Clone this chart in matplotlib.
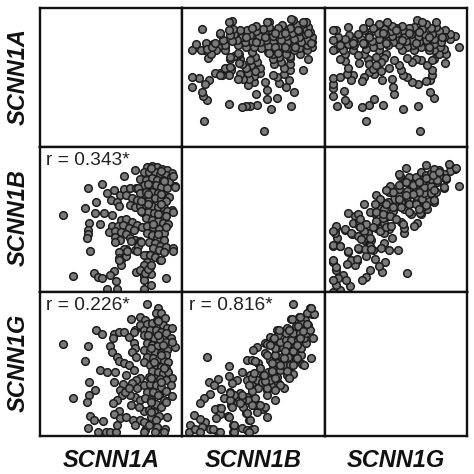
import matplotlib
matplotlib.use('Agg')
import matplotlib.pyplot as plt

plt.rcParams['font.family'] = ['Liberation Sans', 'DejaVu Sans']

genes = ['SCNN1A', 'SCNN1B', 'SCNN1G']
r_ab = 'r = 0.343*'
r_ag = 'r = 0.226*'
r_bg = 'r = 0.816*'

# values, arbitrary units (no axis ticks in the chart)
a_ab = [68,98,142,185,252,283,168,135,163,191,215,146,180,144,142,139,149,160,172,186,221,210,227,230,199,310,375,287,312,332,330,310,
        200,220,212,238,230,252,270,288,256,235,
        320,335,350,365,380,395,310,325,342,358,375,390,300,318,335,350,368,385,402,310,327,345,362,378,292,300,318,335,352,370,385,275,290,308,325,342,360,377,270,285,300,318,335,352,370,395,380,305,323,340,358,375,317,335,352,368,382,
        242,258,275,290,305,215,232,248,265,280,320,338,355,370,205,225,242,258,225,240,223,270,285,300,320,335,350,370,325,342,358,375,397,285,292,258,250,235,320,338,355,370,310,327,342,358,237,242,320,312,328,300,315,
        321,331,361,396,243,236,256,261,291,301,271,
        396,403,396,331,361,371,361,361,351,336,351,376,321,321,321,301,301]
b_ab = [231,47,314,324,350,367,271,252,239,239,233,209,206,187,174,164,123,57,44,41,62,50,32,9,9,9,41,59,47,54,21,37,
        297,307,277,292,272,310,312,312,292,259,
        377,379,377,372,367,359,362,362,362,357,352,347,342,339,345,339,337,332,320,322,322,322,317,312,312,297,302,302,299,292,287,282,277,275,279,282,279,275,262,257,259,262,259,257,252,247,245,242,242,237,235,229,222,217,214,207,205,
        217,219,210,202,195,199,199,202,192,187,199,195,189,179,182,185,182,175,167,157,152,162,157,154,177,172,162,157,152,147,139,135,132,127,139,129,129,122,112,132,127,122,112,112,105,97,102,97,89,82,75,67,57,
        70,80,95,123,80,95,110,125,125,150,155,
        240,315,350,375,365,335,295,265,235,205,175,195,265,295,325,245,275]

a_ag = [68,98,142,135,168,185,220,218,235,252,267,210,215,230,237,250,265,280,180,200,225,258,145,163,145,140,222,247,240,245,230,218,235,220,240,258,278,298,283,148,160,187,143,172,198,210,227,230,320,352,345,360,372,272,300,315,285,300,320,335,350,368,380,395,310,328,345,360,377,390,402,280,285,275,288,310,325,340,358,375,395,320,335,350,370,380,310,327,342,360,377,320,338,355,370,383,310,327,345,362,377,335,352,368,383,395,325,340,358,375,390,300,288,275,290,310,327,345,362,377,395,320,338,355,370,285,270,300,315,330,345,360,377,310,325,340,355,380,315,330,345,312,325,350,372,312,342,370,295,255,265,
        271,281,
        351,361,371,361,366,351,351,331,341,331,321,331,331]
g_ag = [275,113,270,223,317,305,304,294,310,310,295,268,252,237,224,217,212,197,197,192,190,182,162,137,122,101,160,156,137,122,107,100,74,67,54,57,49,47,32,59,49,44,24,11,11,11,11,32,394,382,367,367,352,350,355,347,317,332,334,337,347,332,322,322,317,317,317,312,307,292,265,277,262,252,237,302,297,294,287,282,282,277,272,269,267,257,257,255,252,247,242,237,232,230,224,222,220,212,212,207,202,194,190,187,190,174,177,172,169,167,152,172,167,157,142,152,154,152,147,134,120,132,130,122,107,117,122,107,112,107,97,87,102,74,77,72,60,57,17,57,47,42,32,27,22,11,11,11,87,132,142,
        92,312,
        122,162,202,242,272,302,342,172,222,262,302,102,72]

b_bg = [334,384,392,376,352,327,369,359,379,344,314,284,264,249,224,214,249,74,142,194,209,227,394,387,362,334,306,279,254,244,224,179,142,164,149,109,79,96,117,84,64,54,144,126,152,174,172,146,112,99,114,137,102,36,69,54,24,19,39,59,84,108,54,154,154,179,194,209,202,192,214,194,184,199,209,224,209,224,244,259,274,294,314,229,254,269,289,239,204,194,264,284,304,324,344,284,264,279,299,319,339,359,284,304,322,339,359,374,294,312,329,349,366,274,254,289,312,334,354,372,384,349,229,249,
        335,345,335,345,355,365,375,315,310,305,295,315,320,295,280,280,270,270,280,280,275,265,255,255,255,250,245,235,220,235,220,210,210,200,210,215,180,180,175,155,145,145,150,
        215,200,205,195,157,155,140,117,93,115,398,387,330,355,290,320,367]
g_bg = [394,382,365,367,355,349,347,337,332,327,322,317,297,277,265,257,247,236,208,228,227,217,292,234,216,184,142,107,57,80,72,190,180,167,157,169,160,152,140,125,112,100,132,112,117,127,107,92,85,80,67,59,54,64,42,50,32,11,22,27,22,11,11,11,32,24,17,22,47,69,92,117,87,107,142,147,157,167,182,192,202,197,182,142,137,152,157,162,182,167,167,177,212,212,227,217,227,242,237,237,247,242,262,262,262,267,262,277,282,287,287,287,292,287,274,302,307,307,307,307,317,327,92,87,
        213,233,253,273,293,313,333,273,253,233,213,193,173,153,138,173,193,218,243,263,293,273,243,123,143,163,183,203,223,93,113,93,133,153,173,188,108,123,98,123,108,128,88,
        21,11,48,68,11,33,58,85,21,11,363,383,348,355,318,318,213]

# (row, col): x values, y values, x limits, y limits
# upper triangle mirrors the lower one, with the small shift seen in the picture
panels = {
    (0, 1): (b_ab, a_ab, (-20, 417), (20, 437)),
    (0, 2): (g_ag, a_ag, (-13, 417), (20, 437)),
    (1, 0): (a_ab, b_ab, (0, 425), (0, 437)),
    (1, 2): (g_bg, b_bg, (-13, 417), (19, 448)),
    (2, 0): (a_ag, g_ag, (0, 425), (0, 430)),
    (2, 1): (b_bg, g_bg, (0, 429), (0, 430)),
}
labels = {(1, 0): r_ab, (2, 0): r_ag, (2, 1): r_bg}

W = 474
fig, axes = plt.subplots(3, 3, figsize=(4.74, 4.74), dpi=100,
                         gridspec_kw={'height_ratios': [139, 145, 144], 'wspace': 0, 'hspace': 0})
fig.subplots_adjust(left=40/W, right=467/W, top=1-8/W, bottom=1-436/W)

for i in range(3):
    for j in range(3):
        ax = axes[i, j]
        ax.set_xticks([])
        ax.set_yticks([])
        for s in ax.spines.values():
            s.set_linewidth(1.7)
            s.set_color('#111111')
        if (i, j) in panels:
            x, y, xl, yl = panels[(i, j)]
            ax.scatter(x, y, s=30, c='#7a7a7a', edgecolors='#1c1c1c', linewidths=1.1)
            ax.set_xlim(xl)
            ax.set_ylim(yl)
        if (i, j) in labels:
            ax.text(0.045, 0.965, labels[(i, j)], transform=ax.transAxes, fontsize=13.8,
                    va='top', ha='left', color='#222222')

for k, g in enumerate(genes):
    axes[2, k].text(0.5, -0.17, g, transform=axes[2, k].transAxes, ha='center', va='center',
                    fontsize=17, fontweight='bold', fontstyle='italic', color='#111111')
    axes[k, 0].text(-0.155, 0.51, g, transform=axes[k, 0].transAxes, ha='center', va='center',
                    rotation=90, fontsize=17, fontweight='bold', fontstyle='italic', color='#111111')

fig.savefig('out.png', dpi=100)
